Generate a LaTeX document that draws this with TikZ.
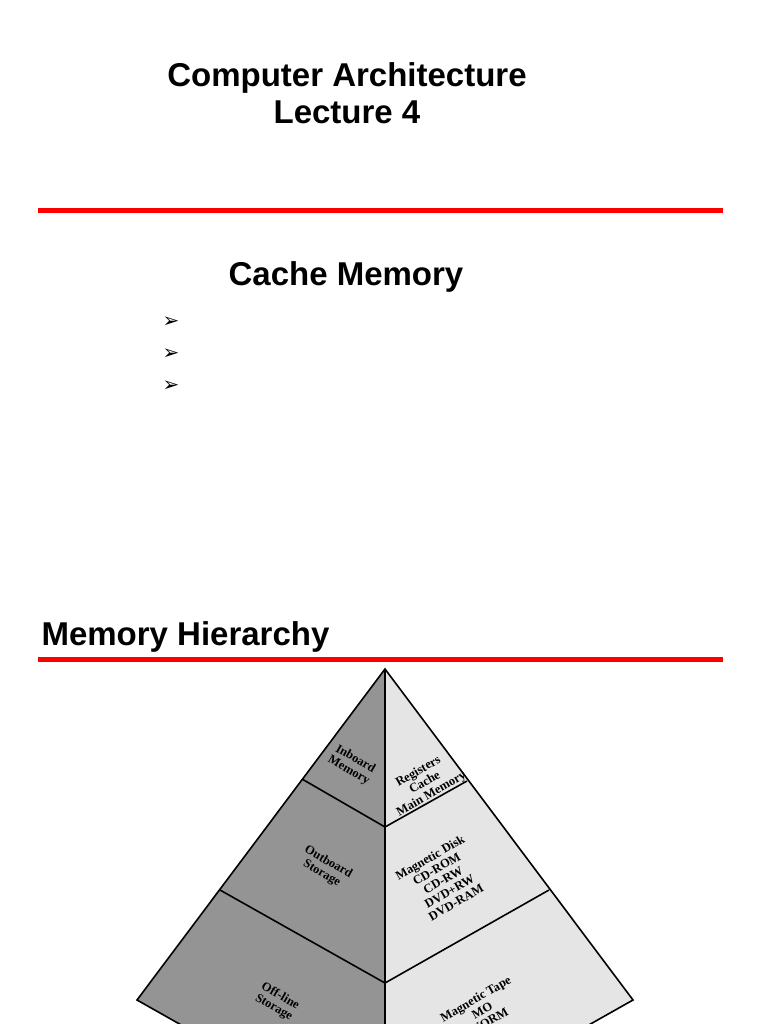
\documentclass[tikz,border=0pt]{standalone}
\usepackage{fontspec}
\setmainfont{Liberation Sans}
\newfontfamily\pyr{Liberation Serif}
\newfontfamily\djfont{DejaVu Sans}
\begin{document}
\begin{tikzpicture}[x=1pt,y=-1pt,
  ttl/.style={font=\bfseries\fontsize{33}{37}\selectfont,align=center},
  redline/.style={red,line width=5pt},
  pl/.style={font=\pyr\bfseries\fontsize{12.5}{13}\selectfont,align=center,inner sep=0},
  edge/.style={line width=1.6pt,line join=miter}]
\useasboundingbox (0,0) rectangle (768,1024);
\clip (0,0) rectangle (768,1024);
\node[ttl] (t) at (347,93) {Computer Architecture\\Lecture 4};
\draw[redline] (38,211) -- (723,211);
\node[ttl] (c) at (346,277) {Cache Memory};
\foreach \y in {322,354,386} \node[font=\djfont\fontsize{20}{20}\selectfont] at (171,\y) {➢};
\node[ttl,anchor=west] (m) at (38,637) {Memory Hierarchy};
\draw[redline] (38,659) -- (723,659);
% pyramid
\coordinate (A) at (385,669);
\coordinate (L) at (137,1000);
\coordinate (R) at (633,1000);
\coordinate (B) at (385,1140);
\fill[black!42] (A) -- (L) -- (B) -- cycle;
\fill[black!10] (A) -- (R) -- (B) -- cycle;
\draw[edge] (A) -- (L) -- (B) -- (R) -- cycle;
\draw[edge] (A) -- (B);
\draw[edge] (302,779) -- (385,827) -- (467,781);
\draw[edge] (220,890) -- (385,983) -- (549,890);
\node[pl,rotate=-30] at (352,765) {Inboard\\Memory};
\node[pl,rotate=-30] at (325,868) {Outboard\\Storage};
\node[pl,rotate=-30] at (277,1002) {Off-line\\Storage};
\node[pl,rotate=30] at (425,783) {Registers\\Cache\\Main Memory};
\node[pl,rotate=30] at (443,880) {Magnetic Disk\\CD-ROM\\CD-RW\\DVD+RW\\DVD-RAM};
\node[pl,rotate=30] at (482,1010) {Magnetic Tape\\MO\\WORM};
\end{tikzpicture}
\end{document}
